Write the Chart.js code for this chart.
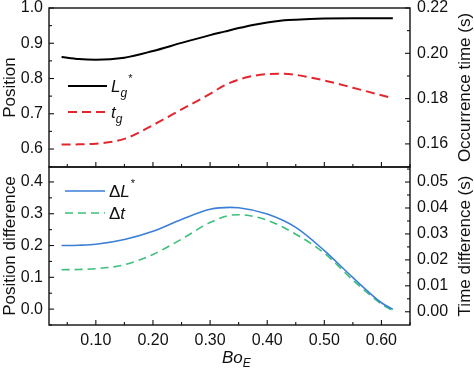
<!DOCTYPE html>
<html>
<head>
<meta charset="utf-8">
<script src="https://cdn.jsdelivr.net/npm/chart.js@4.4.1/dist/chart.umd.min.js"></script>
<style>
    html, body { margin: 0; padding: 0; background: #fff; }
    #wrap { position: relative; width: 474px; height: 373px; }
    #topChart { position: absolute; left: 0; top: 0; }
    #botChart { position: absolute; left: 0; top: 166px; }
</style>
</head>
<body>
<div id="wrap">
    <canvas id="topChart" width="474" height="169"></canvas>
    <canvas id="botChart" width="474" height="207"></canvas>
</div>
<script>
// top panel: BoE values and the two curves
const boETop = [0.04, 0.07, 0.10, 0.15, 0.20, 0.25, 0.30, 0.325, 0.35, 0.375, 0.40, 0.43, 0.45, 0.50, 0.55, 0.60, 0.62];
const lgStar = [0.861, 0.855, 0.853, 0.859, 0.878, 0.901, 0.923, 0.933, 0.943, 0.952, 0.959, 0.965, 0.967, 0.970, 0.971, 0.971, 0.971];
const tg = [0.1597, 0.1598, 0.1601, 0.1622, 0.1683, 0.1752, 0.1821, 0.1858, 0.1884, 0.1900, 0.1908, 0.1910, 0.1905, 0.1880, 0.1848, 0.1815, 0.1802];

// bottom panel
const boEBot = [0.04, 0.07, 0.10, 0.15, 0.20, 0.25, 0.30, 0.335, 0.35, 0.40, 0.45, 0.50, 0.55, 0.60, 0.62];
const dLStar = [0.200, 0.201, 0.204, 0.219, 0.245, 0.282, 0.314, 0.320, 0.319, 0.299, 0.257, 0.184, 0.099, 0.020, -0.001];
const dT = [0.0162, 0.0163, 0.0166, 0.0181, 0.0221, 0.0280, 0.0344, 0.0372, 0.0374, 0.0353, 0.0299, 0.0226, 0.0122, 0.0030, 0.0005];

// tick values
const xTicks = [0.10, 0.20, 0.30, 0.40, 0.50, 0.60];
const xMinor = [0.05, 0.15, 0.25, 0.35, 0.45, 0.55, 0.65];
const posTicks = [0.6, 0.7, 0.8, 0.9, 1.0];
const posMinor = [0.55, 0.65, 0.75, 0.85, 0.95];
const occTicks = [0.16, 0.18, 0.20, 0.22];
const occMinor = [0.15, 0.17, 0.19, 0.21];
const pdTicks = [0.0, 0.1, 0.2, 0.3, 0.4];
const pdMinor = [-0.05, 0.05, 0.15, 0.25, 0.35, 0.45];
const tdTicks = [0.00, 0.01, 0.02, 0.03, 0.04, 0.05];
const tdMinor = [0.005, 0.015, 0.025, 0.035, 0.045, 0.055];

const FONT = 'Liberation Sans, Arial, sans-serif';
const INK = '#111';

function fixTicks(arr) {
    return function (scale) { scale.ticks = arr.map(v => ({ value: v })); };
}

// drop the label overhang padding so the plot box sits where we want it
function noPad(scale) {
    scale.paddingTop = 0;
    scale.paddingBottom = 0;
    scale.paddingLeft = 0;
    scale.paddingRight = 0;
}

/**
 * Frame, inward ticks, rotated axis titles and the inline legend
 */
const decorations = {
    id: 'decorations',
    afterDatasetsDraw(chart, args, opts) {
        const ctx = chart.ctx;
        const a = chart.chartArea;
        ctx.save();
        ctx.strokeStyle = INK;
        ctx.lineWidth = 1.4;
        ctx.strokeRect(a.left, a.top, a.right - a.left, a.bottom - a.top);

        ctx.lineWidth = 1.1;
        opts.ticks.forEach(t => {
            const s = chart.scales[t.id];
            const draw = (v, len) => {
                const p = s.getPixelForValue(v);
                ctx.beginPath();
                if (t.side === 'bottom') {
                    if (p < a.left || p > a.right) return;
                    ctx.moveTo(p, a.bottom); ctx.lineTo(p, a.bottom - len);
                } else if (t.side === 'left') {
                    if (p < a.top - 0.5 || p > a.bottom + 0.5) return;
                    ctx.moveTo(a.left, p); ctx.lineTo(a.left + len, p);
                } else {
                    if (p < a.top - 0.5 || p > a.bottom + 0.5) return;
                    ctx.moveTo(a.right, p); ctx.lineTo(a.right - len, p);
                }
                ctx.stroke();
            };
            t.major.forEach(v => draw(v, 5));
            t.minor.forEach(v => draw(v, 3));
        });

        // axis titles (bottom-to-top on both sides)
        ctx.fillStyle = INK;
        ctx.font = '17px ' + FONT;
        ctx.textAlign = 'center';
        ctx.textBaseline = 'middle';
        const midY = (a.top + a.bottom) / 2;
        [[opts.leftTitle, 10], [opts.rightTitle, 465]].forEach(([txt, x]) => {
            ctx.save();
            ctx.translate(x, midY);
            ctx.rotate(-Math.PI / 2);
            ctx.fillText(txt, 0, 0);
            ctx.restore();
        });

        // legend
        ctx.textAlign = 'left';
        ctx.textBaseline = 'alphabetic';
        opts.legend.forEach(item => {
            const y = a.top + item.dy;
            ctx.save();
            ctx.strokeStyle = item.color;
            ctx.lineWidth = item.width;
            ctx.setLineDash(item.dash);
            ctx.beginPath();
            ctx.moveTo(item.x0, y);
            ctx.lineTo(item.x1, y);
            ctx.stroke();
            ctx.restore();
            let x = item.x1 + 4;
            const base = y + 5.5;
            item.parts.forEach(p => {
                ctx.font = (p.italic ? 'italic ' : '') + p.size + 'px ' + FONT;
                ctx.fillText(p.t, x + (p.dx || 0), base + (p.dy || 0));
                x += ctx.measureText(p.t).width + (p.dx || 0);
            });
        });

        if (opts.xTitle) {
            ctx.font = 'italic 17px ' + FONT;
            ctx.fillText('Bo', 222, 363 - 166);
            const w = ctx.measureText('Bo').width;
            ctx.font = 'italic 12px ' + FONT;
            ctx.fillText('E', 222 + w, 367 - 166);
        }
        ctx.restore();
    }
};

function yAxis(pos, min, max, ticks, digits, width, pad) {
    return {
        type: 'linear',
        position: pos,
        min: min,
        max: max,
        afterBuildTicks: fixTicks(ticks),
        afterFit: s => { s.width = width; noPad(s); },
        grid: { display: false, drawTicks: false },
        border: { display: false },
        ticks: {
            padding: pad,
            color: INK,
            font: { size: 16, family: FONT },
            callback: v => Number(v).toFixed(digits)
        }
    };
}

function xAxis(showLabels, height) {
    return {
        type: 'linear',
        min: 0.018,
        max: 0.65,
        afterBuildTicks: fixTicks(xTicks),
        afterFit: s => { s.height = height; noPad(s); },
        grid: { display: false, drawTicks: false },
        border: { display: false },
        ticks: {
            display: showLabels,
            padding: 6,
            maxRotation: 0,
            color: INK,
            font: { size: 16, family: FONT },
            callback: v => Number(v).toFixed(2)
        }
    };
}

function points(xs, ys) {
    return xs.map((x, i) => ({ x: x, y: ys[i] }));
}

const common = {
    responsive: false,
    animation: false,
    events: [],
    plugins: { legend: { display: false }, tooltip: { enabled: false } },
    elements: { point: { radius: 0 }, line: { cubicInterpolationMode: 'monotone' } }
};

new Chart(document.getElementById('topChart'), {
    type: 'line',
    data: {
        datasets: [{
            label: 'Lg*',
            data: points(boETop, lgStar),
            yAxisID: 'y',
            borderColor: '#000',
            borderWidth: 2
        }, {
            label: 'tg',
            data: points(boETop, tg),
            yAxisID: 'y2',
            borderColor: '#e3262d',
            borderWidth: 2,
            borderDash: [9, 5]
        }]
    },
    options: Object.assign({}, common, {
        layout: { padding: { top: 8, bottom: 0, left: 0, right: 0 } },
        scales: {
            x: xAxis(false, 2),
            y: yAxis('left', 0.549, 1.0, posTicks, 1, 49, 6),
            y2: yAxis('right', 0.1498, 0.22, occTicks, 2, 64, 7)
        },
        plugins: Object.assign({}, common.plugins, {
            decorations: {
                leftTitle: 'Position',
                rightTitle: 'Occurrence time (s)',
                ticks: [
                    { id: 'x', side: 'bottom', major: xTicks, minor: xMinor },
                    { id: 'y', side: 'left', major: posTicks, minor: posMinor },
                    { id: 'y2', side: 'right', major: occTicks, minor: occMinor }
                ],
                legend: [
                    { x0: 68, x1: 107, dy: 78, color: '#000', width: 2, dash: [],
                      parts: [{ t: 'L', size: 17, italic: true }, { t: 'g', size: 12, italic: true, dy: 5 }, { t: '*', size: 11, dy: -10, dx: 1 }] },
                    { x0: 68, x1: 107, dy: 104, color: '#e3262d', width: 2, dash: [9, 5],
                      parts: [{ t: 't', size: 17, italic: true }, { t: 'g', size: 12, italic: true, dy: 5 }] }
                ]
            }
        })
    }),
    plugins: [decorations]
});

new Chart(document.getElementById('botChart'), {
    type: 'line',
    data: {
        datasets: [{
            label: 'ΔL*',
            data: points(boEBot, dLStar),
            yAxisID: 'y',
            borderColor: '#3b7fd8',
            borderWidth: 1.6
        }, {
            label: 'Δt',
            data: points(boEBot, dT),
            yAxisID: 'y2',
            borderColor: '#3cbf7a',
            borderWidth: 1.6,
            borderDash: [8, 5]
        }]
    },
    options: Object.assign({}, common, {
        layout: { padding: { top: 1, bottom: 0, left: 0, right: 0 } },
        scales: {
            x: xAxis(true, 48),
            y: yAxis('left', -0.05, 0.447, pdTicks, 1, 49, 6),
            y2: yAxis('right', -0.0051, 0.0558, tdTicks, 2, 64, 7)
        },
        plugins: Object.assign({}, common.plugins, {
            decorations: {
                leftTitle: 'Position difference',
                rightTitle: 'Time difference (s)',
                xTitle: true,
                ticks: [
                    { id: 'x', side: 'bottom', major: xTicks, minor: xMinor },
                    { id: 'y', side: 'left', major: pdTicks, minor: pdMinor },
                    { id: 'y2', side: 'right', major: tdTicks, minor: tdMinor }
                ],
                legend: [
                    { x0: 65, x1: 105, dy: 24, color: '#3b7fd8', width: 1.6, dash: [],
                      parts: [{ t: 'Δ', size: 17 }, { t: 'L', size: 17, italic: true }, { t: '*', size: 11, dy: -10, dx: 1 }] },
                    { x0: 65, x1: 105, dy: 46, color: '#3cbf7a', width: 1.6, dash: [8, 5],
                      parts: [{ t: 'Δ', size: 17 }, { t: 't', size: 17, italic: true }] }
                ]
            }
        })
    }),
    plugins: [decorations]
});
</script>
</body>
</html>
